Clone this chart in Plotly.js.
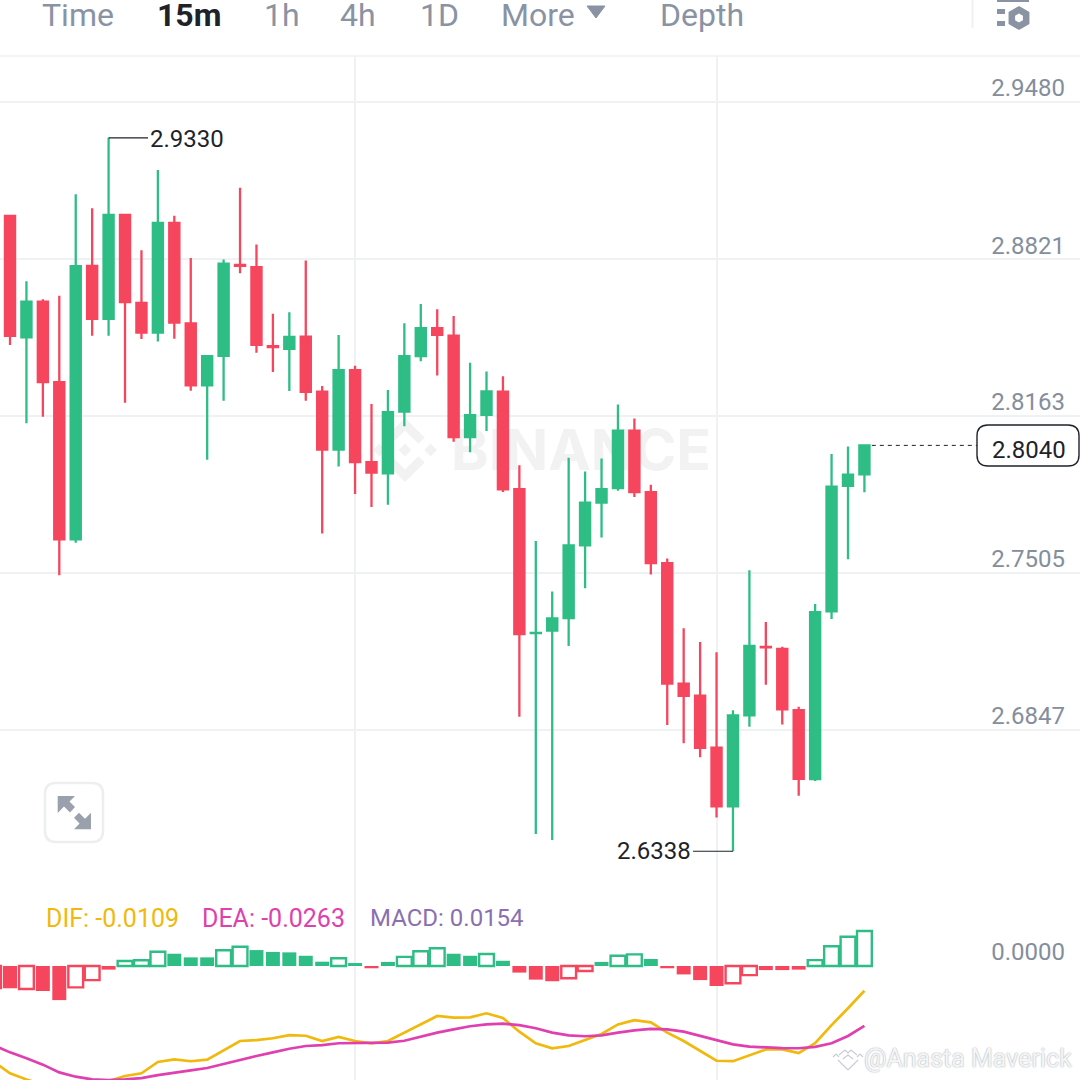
<!DOCTYPE html>
<html>
<head>
<meta charset="utf-8">
<script src="https://cdn.plot.ly/plotly-3.0.1.min.js"></script>
<style>html,body{margin:0;padding:0;background:#fff}#chart{width:1080px;height:1080px}</style>
</head>
<body>
<div id="chart"></div>
<script>
const candleIndex = [-1,0,1,2,3,4,5,6,7,8,9,10,11,12,13,14,15,16,17,18,19,20,21,22,23,24,25,26,27,28,29,30,31,32,33,34,35,36,37,38,39,40,41,42,43,44,45,46,47,48,49,50,51,52];
const openPrice = [2.8495,2.9002,2.8493,2.8643,2.8305,2.7646,2.8793,2.8571,2.9007,2.8638,2.8513,2.8973,2.8552,2.8292,2.8416,2.8797,2.8787,2.8456,2.8445,2.8496,2.8265,2.8022,2.8356,2.7970,2.7923,2.8182,2.8414,2.8532,2.8500,2.8075,2.8168,2.8265,2.7856,2.7253,2.7263,2.7316,2.7621,2.7800,2.7861,2.8102,2.7844,2.7546,2.7041,2.6990,2.6772,2.6526,2.6908,2.7195,2.7187,2.6930,2.6641,2.7344,2.7870,2.7919];
const highPrice = [2.9002,2.9002,2.8728,2.8653,2.8668,2.9093,2.9034,2.9330,2.9007,2.8858,2.9195,2.9003,2.8826,2.8418,2.8820,2.9121,2.8882,2.8592,2.8598,2.8815,2.8289,2.8503,2.8374,2.8214,2.8272,2.8552,2.8633,2.8611,2.8583,2.8387,2.8350,2.8330,2.7957,2.7639,2.7427,2.7988,2.7930,2.7985,2.8212,2.8153,2.7875,2.7566,2.7273,2.7215,2.7173,2.6929,2.7516,2.7299,2.7196,2.6944,2.7375,2.8004,2.8035,2.8040];
const lowPrice = [2.8482,2.8461,2.8133,2.8160,2.7495,2.7632,2.8500,2.8500,2.8219,2.8486,2.8476,2.8487,2.8269,2.7980,2.8227,2.8762,2.8429,2.8348,2.8268,2.8227,2.7671,2.7951,2.7836,2.7782,2.7791,2.8120,2.8393,2.8333,2.8055,2.8011,2.8100,2.7845,2.6902,2.6410,2.6385,2.7199,2.7441,2.7654,2.7850,2.7824,2.7499,2.6867,2.6791,2.6732,2.6480,2.6338,2.6860,2.7036,2.6869,2.6571,2.6633,2.7312,2.7562,2.7843];
const closePrice = [2.9002,2.8499,2.8643,2.8305,2.7646,2.8792,2.8571,2.9007,2.8641,2.8513,2.8973,2.8555,2.8292,2.8414,2.8802,2.8793,2.8462,2.8452,2.8495,2.8265,2.8022,2.8356,2.7970,2.7926,2.8179,2.8414,2.8532,2.8504,2.8075,2.8167,2.8266,2.7856,2.7249,2.7254,2.7314,2.7621,2.7800,2.7856,2.8102,2.7844,2.7546,2.7041,2.6990,2.6772,2.6526,2.6908,2.7199,2.7193,2.6933,2.6642,2.7341,2.7867,2.7917,2.8040];
const macdValues = [-0.0097,-0.0098,-0.0101,-0.0110,-0.0150,-0.0094,-0.0062,-0.0016,0.0022,0.0025,0.0063,0.0054,0.0038,0.0038,0.0069,0.0085,0.0070,0.0062,0.0060,0.0045,0.0019,0.0034,0.0013,-0.0010,0.0018,0.0040,0.0065,0.0078,0.0054,0.0045,0.0053,0.0023,-0.0029,-0.0060,-0.0067,-0.0054,-0.0022,0.0018,0.0045,0.0051,0.0031,-0.0010,-0.0037,-0.0062,-0.0088,-0.0076,-0.0040,-0.0018,-0.0018,-0.0016,0.0026,0.0087,0.0129,0.0154];
const macdHollow = [1,0,1,0,0,1,1,0,1,1,1,0,0,0,1,1,0,0,0,0,0,1,0,0,0,1,1,1,0,0,1,0,0,0,0,1,1,0,1,1,0,0,0,0,0,1,1,0,0,0,1,1,1,1];
const difValues = [-0.0421,-0.0472,-0.0499,-0.0524,-0.0546,-0.0546,-0.0531,-0.0506,-0.0484,-0.0472,-0.0422,-0.0411,-0.0419,-0.0412,-0.0370,-0.0330,-0.0326,-0.0318,-0.0304,-0.0307,-0.0330,-0.0312,-0.0330,-0.0340,-0.0330,-0.0293,-0.0255,-0.0220,-0.0227,-0.0226,-0.0208,-0.0229,-0.0289,-0.0340,-0.0362,-0.0352,-0.0326,-0.0299,-0.0257,-0.0238,-0.0248,-0.0293,-0.0330,-0.0373,-0.0417,-0.0419,-0.0393,-0.0367,-0.0367,-0.0383,-0.0340,-0.0260,-0.0186,-0.0109];
const deaValues = [-0.0348,-0.0380,-0.0406,-0.0434,-0.0468,-0.0487,-0.0499,-0.0502,-0.0499,-0.0493,-0.0480,-0.0468,-0.0459,-0.0449,-0.0431,-0.0412,-0.0396,-0.0380,-0.0364,-0.0352,-0.0348,-0.0340,-0.0339,-0.0340,-0.0337,-0.0329,-0.0311,-0.0293,-0.0279,-0.0265,-0.0257,-0.0254,-0.0260,-0.0274,-0.0293,-0.0305,-0.0309,-0.0305,-0.0293,-0.0283,-0.0277,-0.0279,-0.0289,-0.0307,-0.0327,-0.0345,-0.0355,-0.0359,-0.0361,-0.0362,-0.0356,-0.0340,-0.0308,-0.0263];
const priceTicks = [2.9480,2.8821,2.8163,2.7505,2.6847,2.6188];
const priceTickLabels = ["2.9480","2.8821","2.8163","2.7505","2.6847","2.6188"];
const timeGridIndex = [21,43];
const headerLabels = ["Time","15m","1h","4h","1D","More","Depth"];

const GREEN = '#2EBD85', RED = '#F6465D', GRID = '#F0F1F3', GREY = '#848E9C', DARK = '#1E2329';
const FONT = 'Roboto, sans-serif';

const macdColor = macdValues.map(v => v >= 0 ? GREEN : RED);

const traces = [
  {type:'scatter', mode:'text', x:[581], y:[456], text:['BINANCE'], xaxis:'x', yaxis:'y',
   textfont:{family:'Inter, sans-serif', size:57, color:'#F2F2F3', weight:700}, hoverinfo:'skip', showlegend:false},
  {type:'candlestick', x:candleIndex, open:openPrice, high:highPrice, low:lowPrice, close:closePrice,
   xaxis:'x2', yaxis:'y2', whiskerwidth:0, showlegend:false, hoverinfo:'skip',
   increasing:{line:{color:GREEN, width:2.3}, fillcolor:GREEN},
   decreasing:{line:{color:RED, width:2.3}, fillcolor:RED}},
  {type:'bar', x:candleIndex, y:macdValues, xaxis:'x3', yaxis:'y3', width:macdHollow.map(h=>h ? 0.9 : 0.85), showlegend:false, hoverinfo:'skip',
   marker:{color:macdValues.map((v,i)=>macdHollow[i] ? '#FFFFFF' : macdColor[i]),
           line:{color:macdColor, width:macdHollow.map(h=>h ? 2.4 : 0)}}},
  {type:'scatter', mode:'lines', x:candleIndex, y:difValues, xaxis:'x3', yaxis:'y3', showlegend:false, hoverinfo:'skip',
   line:{color:'#F0B90B', width:2.7}},
  {type:'scatter', mode:'lines', x:candleIndex, y:deaValues, xaxis:'x3', yaxis:'y3', showlegend:false, hoverinfo:'skip',
   line:{color:'#E040AF', width:2.7}}
];

function ann(x, y, text, size, color, anchor, extra) {
  return Object.assign({xref:'x', yref:'y', x, y, text, showarrow:false, xanchor:anchor||'left', yanchor:'middle',
    font:{family:FONT, size, color}}, extra||{});
}
function rounded(x0,y0,x1,y1,r){
  return `M${x0+r},${y0} L${x1-r},${y0} Q${x1},${y0} ${x1},${y0+r} L${x1},${y1-r} Q${x1},${y1} ${x1-r},${y1} L${x0+r},${y1} Q${x0},${y1} ${x0},${y1-r} L${x0},${y0+r} Q${x0},${y0} ${x0+r},${y0} Z`;
}
function poly(pts, cx, cy, r){
  return 'M' + pts.map(p => `${cx+p[0]*r},${cy+p[1]*r}`).join(' L') + ' Z';
}
function deco(path, fill, line, width, layer, dash) {
  return {type:'path', xref:'x', yref:'y', path, fillcolor:fill||'rgba(0,0,0,0)',
    line:{color:line||'rgba(0,0,0,0)', width:width||0, dash:dash||'solid'}, layer:layer||'above'};
}
const LOGO = [
  [[0,-1],[.613,-.387],[.42,-.193],[0,-.613],[-.42,-.193],[-.613,-.387]],
  [[0,1],[.613,.387],[.42,.193],[0,.613],[-.42,.193],[-.613,.387]],
  [[0,-.2],[.2,0],[0,.2],[-.2,0]],
  [[.8,-.2],[1,0],[.8,.2],[.6,0]],
  [[-.8,-.2],[-.6,0],[-.8,.2],[-1,0]]
];
const hex = [[0,-1],[.87,-.5],[.87,.5],[0,1],[-.87,.5],[-.87,-.5]];

const shapes = [
  {type:'line', xref:'x', yref:'y', x0:0, x1:1080, y0:56, y1:56, line:{color:'#F3F4F6', width:2}, layer:'below'},
  {type:'line', xref:'x', yref:'y', x0:972.5, x1:972.5, y0:0, y1:28, line:{color:'#EEF0F2', width:2}},
  deco('M587,6 L605,6 L596,18 Z', '#8A93A3', '#8A93A3', 1),
  deco('M997,0 L1029,0 L1029,2 L997,2 Z', '#8A93A3'),
  deco('M997,9 L1005,9 L1005,14 L997,14 Z', '#8A93A3'),
  deco('M997,21 L1005,21 L1005,26 L997,26 Z', '#8A93A3'),
  deco(poly(hex,1019,18,12), '#8A93A3'),
  deco(poly(hex,1019,18,4.5), '#FFFFFF'),
  ...LOGO.map(p => deco(poly(p,405,450,32), '#F2F2F3', null, 0, 'below')),
  deco(rounded(45,783,103,842,11), '#FFFFFF', '#ECEEF0', 2.5),
  deco('M57.7,796 L75,796 L69.5,801.5 L75,807 L70,812.5 L64,806.5 L57.7,813 Z', '#9AA1AD'),
  deco('M91,829.3 L74,829.3 L79.5,823.5 L74,817.7 L79,812.7 L85,818.7 L91,812.7 Z', '#9AA1AD'),
  {type:'line', xref:'x2', yref:'y2', x0:6, x1:8.4, y0:2.9330, y1:2.9330, line:{color:DARK, width:1.2}},
  {type:'line', xref:'x2', yref:'y2', x0:41.57, x1:44, y0:2.6338, y1:2.6338, line:{color:DARK, width:1.2}},
  {type:'line', xref:'x2', yref:'y2', x0:52.45, x1:58.86, y0:2.8040, y1:2.8040, line:{color:DARK, width:1, dash:'4px,4px'}},
  deco(rounded(977,425,1079,466,11), '#FFFFFF', DARK, 1.4),
  deco('M839,1055 L845,1050 L848,1053 L851,1050 L857,1055 M833,1057 L836,1054 L839,1057 M857,1057 L860,1054 L863,1057 M838,1060 L848,1070 L858,1060 M843,1059 L848,1055 L853,1059', null, '#C9CDD3', 1.2)
];

const headerX = [39.5,154.5,261.5,337.5,417.5,498.5,657.5];
const annotations = [
  ...headerLabels.map((t,i)=>ann(headerX[i], 15, t==='15m' ? '<b>'+t+'</b>' : t, 32, t==='15m' ? DARK : '#8A93A3')),
  {xref:'x2', yref:'y2', x:6, y:2.9330, xshift:39.5, yshift:-1, text:'2.9330', showarrow:false, xanchor:'left', yanchor:'middle', font:{family:FONT, size:24, color:DARK}},
  {xref:'x2', yref:'y2', x:44, y:2.6338, xshift:-39.5, text:'2.6338', showarrow:false, xanchor:'right', yanchor:'middle', font:{family:FONT, size:24, color:DARK}},
  ann(1068, 450, '2.8040', 24, DARK, 'right'),
  ann(112, 918, 'DIF: -0.0109', 25, '#F0B90B', 'center'),
  ann(273, 918, 'DEA: -0.0263', 25, '#E040AF', 'center'),
  ann(446.5, 918, 'MACD: 0.0154', 24, '#8B6FB0', 'center'),
  {xref:'x', yref:'y', x:862, y:1058, text:'@Anasta Maverick', showarrow:false, xanchor:'left', yanchor:'middle',
   font:{family:FONT, size:25, color:'#F4F5F6', shadow:'0 0 1.5px #8E939B'}}
];

const pxRange = [-0.609, 65.12];
const layout = {
  width:1080, height:1080, margin:{l:0,r:0,t:0,b:0,pad:0}, paper_bgcolor:'#FFFFFF', plot_bgcolor:'rgba(0,0,0,0)',
  showlegend:false, boxgap:0.12, dragmode:false,
  xaxis:{domain:[0,1], range:[0,1080], visible:false, fixedrange:true},
  yaxis:{domain:[0,1], range:[1080,0], visible:false, fixedrange:true},
  xaxis2:{domain:[0,1], range:pxRange, anchor:'y2', rangeslider:{visible:false}, tickmode:'array', tickvals:timeGridIndex,
          showticklabels:false, ticks:'', showgrid:true, gridcolor:GRID, gridwidth:1.5, zeroline:false, showline:false, fixedrange:true},
  yaxis2:{domain:[0.1787,0.94815], range:[2.6188,2.9673], anchor:'x2', side:'right', tickmode:'array', tickvals:priceTicks, ticktext:priceTickLabels,
          ticklabelposition:'inside', ticklabelstandoff:12, ticklabelshift:-14, ticks:'', showgrid:true, gridcolor:GRID, gridwidth:1.5,
          zeroline:false, showline:false, tickfont:{family:FONT, size:24, color:GREY}, fixedrange:true},
  xaxis3:{domain:[0,1], range:pxRange, anchor:'y3', tickmode:'array', tickvals:timeGridIndex, showticklabels:false, ticks:'',
          showgrid:true, gridcolor:GRID, gridwidth:1.5, zeroline:false, showline:false, fixedrange:true},
  yaxis3:{domain:[0,0.1787], range:[-0.05016,0.03476], anchor:'x3', side:'right', tickmode:'array', tickvals:[0], ticktext:['0.0000'],
          ticklabelposition:'inside', ticklabelstandoff:12, ticklabelshift:-14, ticks:'', showgrid:false, zeroline:false, showline:false,
          tickfont:{family:FONT, size:24, color:GREY}, fixedrange:true},
  shapes, annotations
};
Plotly.newPlot('chart', traces, layout, {displayModeBar:false, responsive:false});
</script>
</body>
</html>
